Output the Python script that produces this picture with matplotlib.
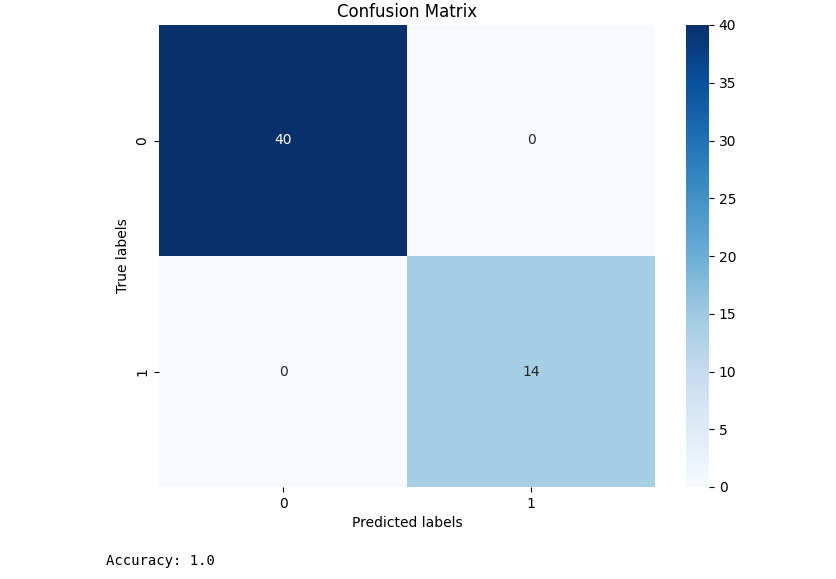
import matplotlib
matplotlib.use("Agg")
import matplotlib.pyplot as plt
import seaborn as sns
import numpy as np

labels = ["0", "1"]
row0 = [40, 0]
row1 = [0, 14]
accuracy = 1.0

cm = np.array([row0, row1])

fig = plt.figure(figsize=(8.36, 5.79), dpi=100)
ax = fig.add_axes([159/836, 1-487/579, (655-159)/836, (487-25)/579])
cax = fig.add_axes([686/836, 1-487/579, 23/836, (487-25)/579])
sns.heatmap(cm, annot=True, fmt="d", cmap="Blues", ax=ax, cbar_ax=cax,
            xticklabels=labels, yticklabels=labels)
ax.set_title("Confusion Matrix")
ax.set_xlabel("Predicted labels")
ax.set_ylabel("True labels")
fig.text(106/836, 1-565/579, f"Accuracy: {accuracy}", family="DejaVu Sans Mono", fontsize=10)
fig.savefig("out.png", dpi=100)
